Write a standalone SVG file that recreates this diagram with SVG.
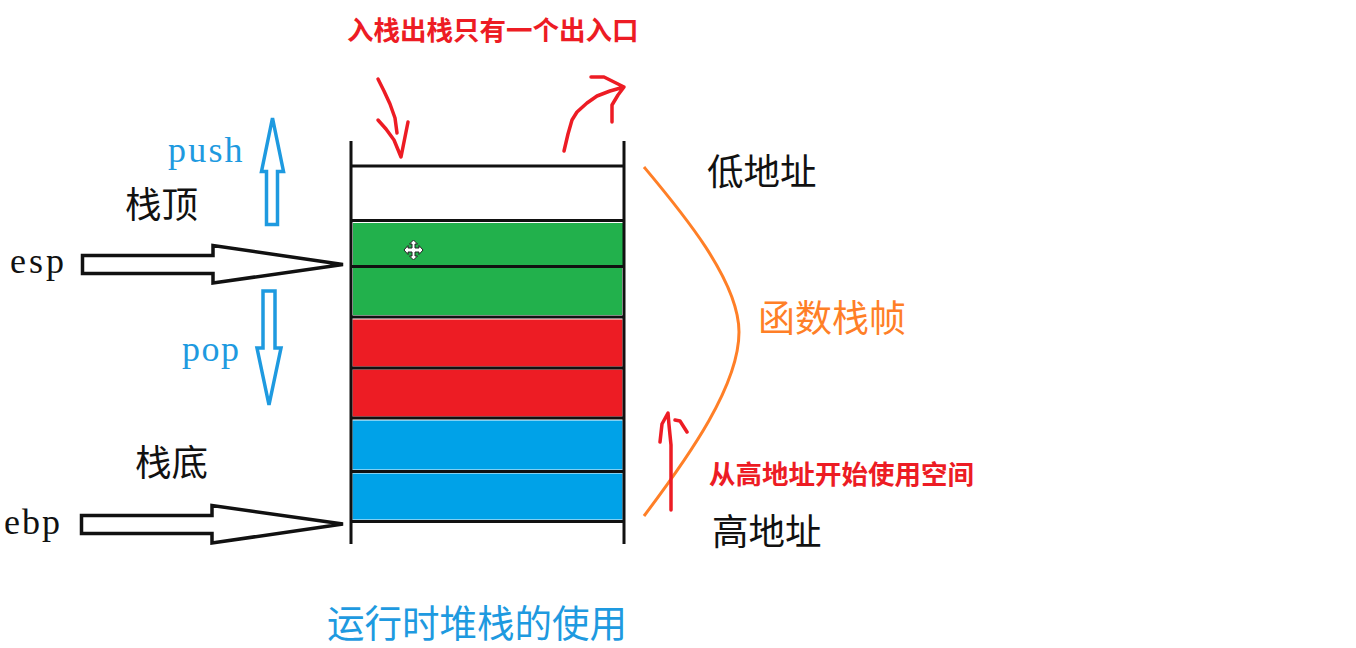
<svg xmlns="http://www.w3.org/2000/svg" width="1356" height="648" viewBox="0 0 1356 648">
<style>
text{font-family:"Noto Sans CJK SC","Noto Sans",sans-serif}
.lat{font-family:"Liberation Serif","DejaVu Serif",serif}
.k{fill:#111;font-size:36.500px}
.red{fill:#ed1c24;font-size:26.500px;font-weight:700}
.blue{fill:#1e9ae0}
.ink{fill:none;stroke:#ed1c24;stroke-width:3.500;stroke-linecap:round;stroke-linejoin:round}
.wall{stroke:#111;stroke-width:3;fill:none}
.hollowK{fill:#fff;stroke:#111;stroke-width:3.500}
.hollowB{fill:#fff;stroke:#1e9ae0;stroke-width:3.500}
.cell{stroke:#fff;stroke-width:1}
</style>
<rect width="1356" height="648" fill="#fff"/>
<g id="stack">
<rect x="352" y="167" width="271" height="52" fill="#fff"/>
<rect class="cell" x="352.500" y="222.500" width="271" height="43" fill="#22b14c"/>
<rect class="cell" x="352.500" y="267.500" width="270" height="48" fill="#22b14c"/>
<rect class="cell" x="352" y="319" width="271" height="48" fill="#ed1c24"/>
<rect class="cell" x="352" y="369" width="271" height="48" fill="#ed1c24"/>
<rect class="cell" x="352" y="420" width="271" height="50" fill="#00a2e8"/>
<rect class="cell" x="352" y="473" width="271" height="47" fill="#00a2e8"/>
<path class="wall" d="M351 141V544M624 141V544"/>
<path class="wall" d="M351 166H624M351 220.500H624M351 266.500H624M351 317H624M351 368H624M351 418H624M351 471.500H624M351 521.500H624"/>
</g>
<g id="cursor" fill="#fff" stroke="#222" stroke-width="1">
<path d="M413.500 240l4 4h-2.500v4h4v-2.500l4 4.500-4 4.500v-2.500h-4v4h2.500l-4 4-4-4h2.500v-4h-4v2.500l-4-4.500 4-4.500v2.500h4v-4h-2.500z"/>
</g>
<g id="connectors">
<path class="hollowK" d="M82.500 255.500H213V245.500L343 264.500L213 283V273.500H82.500Z"/>
<path class="hollowK" d="M81.500 515.500H212V505.500L343 524L212 543V533.500H81.500Z"/>
<path class="hollowB" d="M266.500 224.500V171.500H261.500L272.500 118L283.500 171.500H277.500V224.500Z"/>
<path class="hollowB" d="M263 291H275V348H281L269 405L257 348H263Z"/>
<path d="M644 167C680 210 739 280 739 332C739 385 690 455 644 516" fill="none" stroke="#ff7f27" stroke-width="3"/>
<path class="ink" d="M378 79L384 91L390 104L395 118L397 133M378 120L386 129L394 140L401 157L408 122"/>
<path class="ink" d="M564 151L568 134L572 120L577 112L587 103L597 96L610 91L624 87L618 95L612 105L612 122M591 77L604 77L614 82L624 87"/>
<path class="ink" d="M671 510V445L669 425L668 413L662 424L660 442M675 420L680 421L687 432"/>
</g>
<g id="labels">
<text class="red" x="347" y="40">入栈出栈只有一个出入口</text>
<text class="lat blue" x="168" y="162" font-size="36" style="letter-spacing:2.200px">push</text>
<text class="lat blue" x="182" y="361" font-size="36" style="letter-spacing:1.500px">pop</text>
<text class="lat" x="10" y="273" font-size="36" fill="#111" style="letter-spacing:3px">esp</text>
<text class="lat" x="4" y="534" font-size="36" fill="#111" style="letter-spacing:2px">ebp</text>
<text class="k" x="125" y="218">栈顶</text>
<text class="k" x="135" y="476">栈底</text>
<text class="k" x="707" y="185">低地址</text>
<text class="k" x="712" y="545">高地址</text>
<text x="758" y="332" font-size="37" fill="#ff7f27">函数栈帧</text>
<text class="red" x="709" y="484">从高地址开始使用空间</text>
<text x="327" y="637" font-size="37.500" fill="#1e9ae0">运行时堆栈的使用</text>
</g>
</svg>
